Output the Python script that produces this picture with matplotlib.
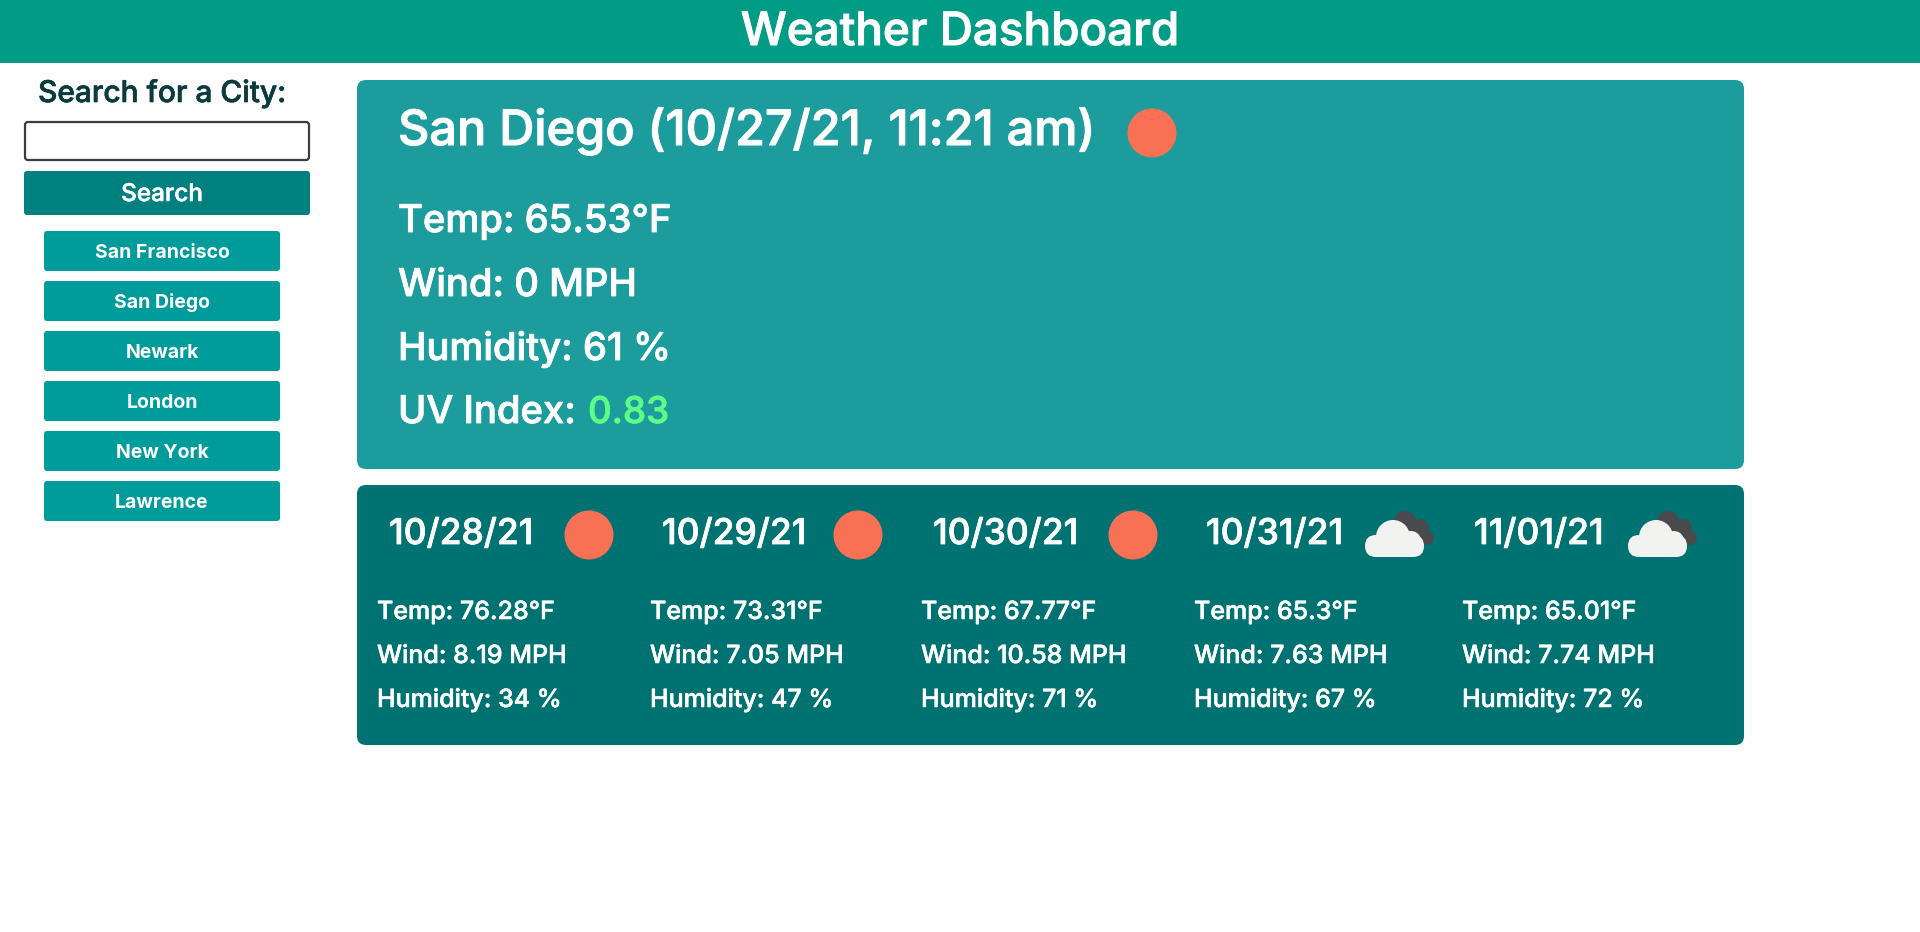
import matplotlib
matplotlib.use("Agg")
import matplotlib.pyplot as plt
import matplotlib.patheffects as pe
from matplotlib.patches import Circle, FancyBboxPatch

plt.rcParams['font.family'] = ['Inter', 'DejaVu Sans']

# current conditions
city = 'San Diego'
stamp = '10/27/21, 11:21 am'
temp_now = '65.53'
wind_now = '0'
hum_now = '61'
uv_now = '0.83'

# five day forecast
dates = ['10/28/21', '10/29/21', '10/30/21', '10/31/21', '11/01/21']
temps = ['76.28', '73.31', '67.77', '65.3', '65.01']
winds = ['8.19', '7.05', '10.58', '7.63', '7.74']
hums = ['34', '47', '71', '67', '72']
icons = ['sun', 'sun', 'sun', 'cloud', 'cloud']

cities = ['San Francisco', 'San Diego', 'Newark', 'London', 'New York', 'Lawrence']

date_x = [389, 662, 933, 1206, 1474]
stat_x = [377, 650, 921, 1194, 1462]
icon_x = [589, 858, 1133, 1365, 1628]

SUN = '#f97155'
WHITE = 'white'

fig = plt.figure(figsize=(19.2, 9.32), dpi=100, facecolor='#fefefe')
ax = fig.add_axes([0, 0, 1, 1])
ax.set_xlim(0, 1920)
ax.set_ylim(932, 0)
ax.axis('off')


def box(x0, y0, x1, y1, color, r=4, **kw):
    ax.add_patch(FancyBboxPatch((x0 + r, y0 + r), x1 - x0 - 2 * r, y1 - y0 - 2 * r,
                                boxstyle='round,pad=%d,rounding_size=%d' % (r, r),
                                fc=color, ec=kw.pop('ec', 'none'), **kw))


def label(x, y, s, size, color=WHITE, ha='left', weight='medium'):
    t = ax.text(x, y, s, fontsize=size, color=color, ha=ha, va='baseline', fontweight=weight)
    # Inter only comes in regular and bold here, thicken it a bit for the medium look
    if weight == 'medium':
        t.set_path_effects([pe.withStroke(linewidth=size * 0.022, foreground=color)])
    return t


def cloud(x, base):
    # dark cloud behind
    for dx, dy, r in [(40, -35, 11), (55, -29, 9), (62, -19, 7), (48, -24, 11)]:
        ax.add_patch(Circle((x + dx, base + dy), r, fc='#4a4a4c', ec='none'))
    # light cloud in front
    box(x, base - 22, x + 59, base, '#f2f2f0', r=11)
    ax.add_patch(Circle((x + 28, base - 20), 17, fc='#f2f2f0', ec='none'))
    ax.add_patch(Circle((x + 46, base - 16), 10, fc='#f2f2f0', ec='none'))


# header
ax.add_patch(plt.Rectangle((0, 0), 1920, 63, fc='#009c85', ec='none'))
label(960, 45, 'Weather Dashboard', 33, ha='center')

# sidebar
label(162, 102, 'Search for a City:', 21.5, color='#0c3b3f', ha='center')
box(25, 122, 309, 160, 'white', r=3, ec='#3c3c3c', lw=1.6)
box(24, 171, 310, 215, '#00807f', r=3)
label(162, 201, 'Search', 17.5, ha='center')
for i, c in enumerate(cities):
    top = 231 + i * 50
    box(44, top, 280, top + 40, '#009b9b', r=3)
    label(162, top + 27, c, 14, ha='center', weight='bold')

# current weather card
box(357, 80, 1744, 469, '#1c9c9c', r=9)
label(398, 145, '%s (%s)' % (city, stamp), 35)
ax.add_patch(Circle((1152, 133), 24.5, fc=SUN, ec='none'))
label(398, 232, 'Temp: %s°F' % temp_now, 27.5)
label(398, 296, 'Wind: %s MPH' % wind_now, 27.5)
label(398, 360, 'Humidity: %s %%' % hum_now, 27.5)
label(398, 423, 'UV Index: ', 27.5)
label(588, 423, uv_now, 26.5, color='#5dfc87')

# forecast card
box(357, 485, 1744, 745, '#007272', r=9)
for i in range(len(dates)):
    label(date_x[i], 544, dates[i], 25.5)
    if icons[i] == 'sun':
        ax.add_patch(Circle((icon_x[i], 535), 24.5, fc=SUN, ec='none'))
    else:
        cloud(icon_x[i], 557)
    label(stat_x[i], 619, 'Temp: %s°F' % temps[i], 18)
    label(stat_x[i], 663, 'Wind: %s MPH' % winds[i], 18)
    label(stat_x[i], 707, 'Humidity: %s %%' % hums[i], 18)

fig.savefig('out.png', dpi=100, facecolor=fig.get_facecolor())
